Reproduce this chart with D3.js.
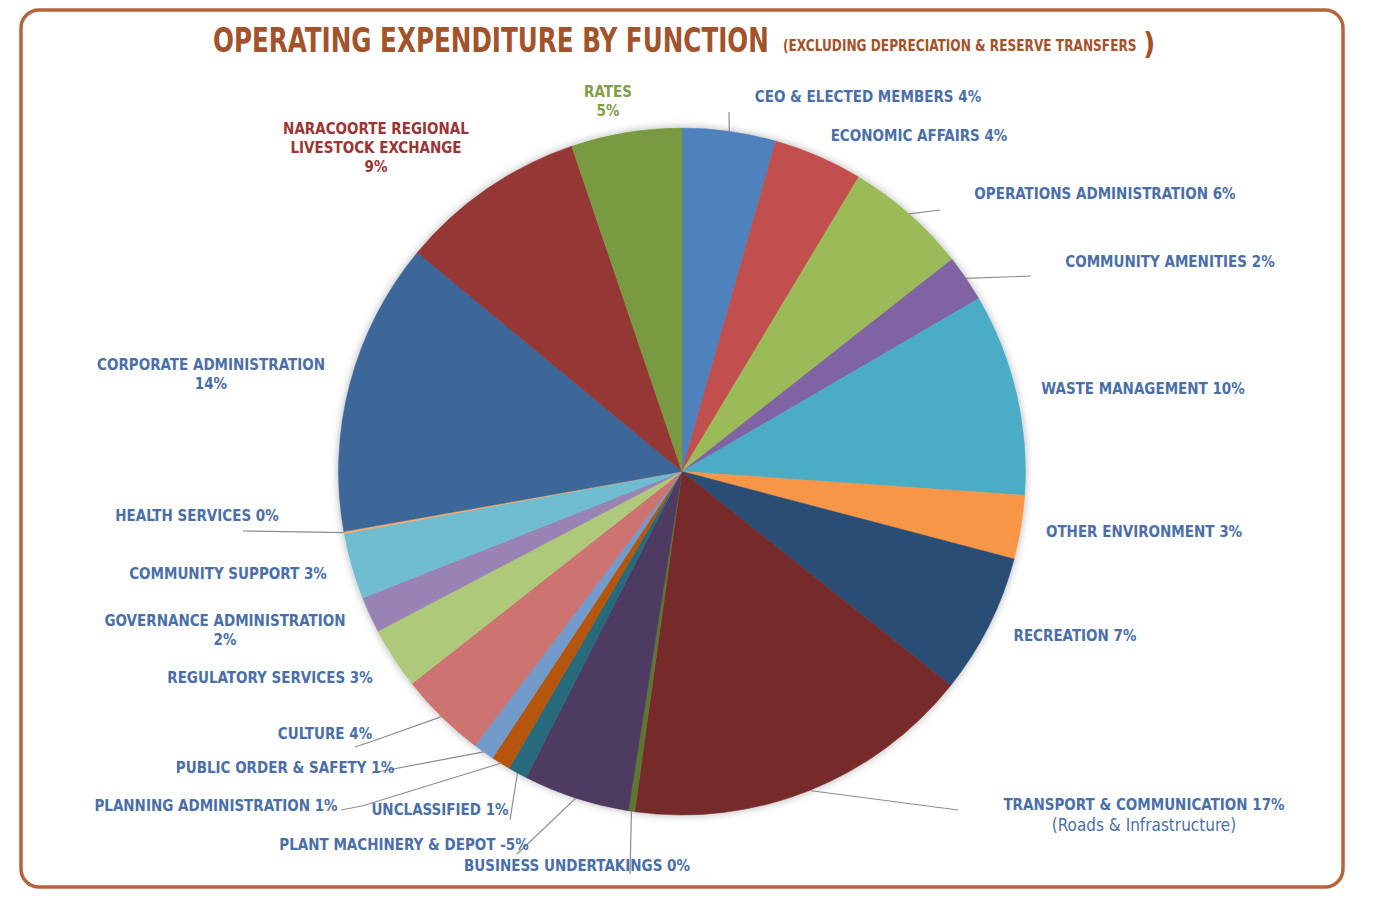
<!DOCTYPE html>
<html>
<head>
<meta charset="utf-8">
<script src="https://cdn.jsdelivr.net/npm/d3@7"></script>
<style>
  body { margin: 0; background: white; }
  svg text { font-family: "DejaVu Sans Condensed", "Liberation Sans Narrow", sans-serif; }
  .lbl { font-size: 15px; font-weight: bold; fill: #4a6fa8; }
  .leader { fill: none; stroke: #8c8c8c; stroke-width: 1.2; }
</style>
</head>
<body>
<div id="chart"></div>
<script>
// slices clockwise from 12 o'clock
var functions = ["CEO & ELECTED MEMBERS", "ECONOMIC AFFAIRS", "OPERATIONS ADMINISTRATION", "COMMUNITY AMENITIES",
  "WASTE MANAGEMENT", "OTHER ENVIRONMENT", "RECREATION", "TRANSPORT & COMMUNICATION", "BUSINESS UNDERTAKINGS",
  "PLANT MACHINERY & DEPOT", "UNCLASSIFIED", "PLANNING ADMINISTRATION", "PUBLIC ORDER & SAFETY", "CULTURE",
  "REGULATORY SERVICES", "GOVERNANCE ADMINISTRATION", "COMMUNITY SUPPORT", "HEALTH SERVICES",
  "CORPORATE ADMINISTRATION", "NARACOORTE REGIONAL LIVESTOCK EXCHANGE", "RATES"];
var shares = [4.4, 4.2, 5.8, 2.2, 9.5, 3.0, 6.6, 16.5, 0.3, 5.0, 0.9, 0.9, 1.0, 4.1, 2.9, 1.7, 3.1, 0.1, 13.8, 8.8, 5.2];
var shownPct = ["4%", "4%", "6%", "2%", "10%", "3%", "7%", "17%", "0%", "-5%", "1%", "1%", "1%", "4%", "3%", "2%", "3%", "0%", "14%", "9%", "5%"];
// label lines as printed
var labelLines = [
  ["CEO & ELECTED MEMBERS 4%"], ["ECONOMIC AFFAIRS 4%"], ["OPERATIONS ADMINISTRATION 6%"], ["COMMUNITY AMENITIES 2%"],
  ["WASTE MANAGEMENT 10%"], ["OTHER ENVIRONMENT 3%"], ["RECREATION 7%"],
  ["TRANSPORT & COMMUNICATION 17%", "(Roads & Infrastructure)"], ["BUSINESS UNDERTAKINGS 0%"],
  ["PLANT MACHINERY & DEPOT -5%"], ["UNCLASSIFIED 1%"], ["PLANNING ADMINISTRATION 1%"], ["PUBLIC ORDER & SAFETY 1%"],
  ["CULTURE 4%"], ["REGULATORY SERVICES 3%"], ["GOVERNANCE ADMINISTRATION", "2%"], ["COMMUNITY SUPPORT 3%"],
  ["HEALTH SERVICES 0%"], ["CORPORATE ADMINISTRATION", "14%"], ["NARACOORTE REGIONAL", "LIVESTOCK EXCHANGE", "9%"],
  ["RATES", "5%"]];
var titleText = "OPERATING EXPENDITURE BY FUNCTION";
var subtitleText = "(EXCLUDING DEPRECIATION & RESERVE TRANSFERS";

var colors = ["#4f81bd", "#c0504d", "#9bbb59", "#8064a2", "#4bacc6", "#f79646", "#2c4d75", "#772c2a", "#5f7530",
  "#4d3b62", "#276a7c", "#b65708", "#729aca", "#cd7371", "#afc97a", "#9983b5", "#6fbdd1", "#f9ab6b",
  "#3c6699", "#953735", "#7a9a43"];

// layout: label centre, first baseline; leader points (after the slice edge)
var layout = [
  {x: 868, y: 102, leader: [[729, 112]]},
  {x: 919, y: 141},
  {x: 1105, y: 199, leader: [[940, 210]]},
  {x: 1170, y: 267, leader: [[1031, 276]]},
  {x: 1143, y: 394},
  {x: 1144, y: 537},
  {x: 1075, y: 641},
  {x: 1144, y: 810, leader: [[958, 810]]},
  {x: 577, y: 871, leader: [[630, 874]]},
  {x: 404, y: 850, leader: [[517, 854]]},
  {x: 440, y: 815, leader: [[510, 820]]},
  {x: 216, y: 811, leader: [[362, 806], [341, 810]]},
  {x: 285, y: 773, leader: [[372, 773]]},
  {x: 325, y: 739, leader: [[376, 740], [355, 747]]},
  {x: 270, y: 683},
  {x: 225, y: 626},
  {x: 228, y: 579},
  {x: 197, y: 521, leader: [[243, 531]]},
  {x: 211, y: 370},
  {x: 376, y: 134},
  {x: 608, y: 97}
];
var labelColor = function (i) {
  if (i === 19) return "#9b3534";
  if (i === 20) return "#7f9f45";
  return "#4a6fa8";
};

var data = functions.map(function (f, i) {
  return {name: f, value: shares[i], pct: shownPct[i], lines: labelLines[i], color: colors[i], lay: layout[i], idx: i};
});

var W = 1379, H = 913;
var cx = 682, cy = 471.5, radius = 343.5;

var svg = d3.select("#chart").append("svg")
  .attr("width", W).attr("height", H);

var defs = svg.append("defs");
var f = defs.append("filter").attr("id", "shadow")
  .attr("x", "-10%").attr("y", "-10%").attr("width", "120%").attr("height", "120%");
f.append("feDropShadow").attr("dx", 0).attr("dy", 0).attr("stdDeviation", 4)
  .attr("flood-color", "#000").attr("flood-opacity", 0.3);

// frame
svg.append("rect")
  .attr("x", 21).attr("y", 10).attr("width", 1322).attr("height", 877)
  .attr("rx", 18).attr("ry", 18)
  .attr("fill", "white").attr("stroke", "#b4653c").attr("stroke-width", 3.5);

// title: condensed horizontally to fit the width of the original
function squeeze(x, y, txt, fs, target) {
  var t = svg.append("text").attr("fill", "#a3532b").attr("font-weight", "bold")
    .attr("font-size", fs + "px").text(txt);
  var len = t.node().getComputedTextLength();
  var sx = Math.min(1, target / len);
  t.attr("transform", "translate(" + x + "," + y + ") scale(" + sx.toFixed(3) + ",1)");
  return t;
}
squeeze(213, 52, titleText, 33, 556);
squeeze(783, 51, subtitleText, 16, 354);
svg.append("text").attr("x", 1143).attr("y", 54).attr("fill", "#a3532b")
  .attr("font-size", "30px").attr("font-weight", "bold").text(")");

var pie = d3.pie().value(function (d) { return d.value; }).sort(null);
var arc = d3.arc().innerRadius(0).outerRadius(radius);
var arcs = pie(data);

var g = svg.append("g").attr("transform", "translate(" + cx + "," + cy + ")");

g.append("g").attr("filter", "url(#shadow)")
  .selectAll("path")
  .data(arcs)
  .enter().append("path")
  .attr("d", arc)
  .attr("fill", function (d) { return d.data.color; })
  .attr("stroke", function (d) { return d.data.color; })
  .attr("stroke-width", 0.5);

// leader lines: from slice edge at mid angle to label
var edge = function (d) {
  var a = (d.startAngle + d.endAngle) / 2;
  return [cx + radius * Math.sin(a), cy - radius * Math.cos(a)];
};
var lineGen = d3.line();
svg.append("g").selectAll("path")
  .data(arcs.filter(function (d) { return d.data.lay.leader; }))
  .enter().append("path")
  .attr("class", "leader")
  .attr("d", function (d) { return lineGen([edge(d)].concat(d.data.lay.leader)); });

// labels
var lbl = svg.append("g").selectAll("text")
  .data(data)
  .enter().append("text")
  .attr("class", "lbl")
  .attr("text-anchor", "middle")
  .attr("x", function (d) { return d.lay.x; })
  .attr("y", function (d) { return d.lay.y; })
  .style("fill", function (d) { return labelColor(d.idx); });

lbl.selectAll("tspan")
  .data(function (d) { return d.lines.map(function (l, k) { return {t: l, k: k, x: d.lay.x, idx: d.idx}; }); })
  .enter().append("tspan")
  .attr("x", function (t) { return t.x; })
  .attr("dy", function (t) { return t.k === 0 ? 0 : (t.idx === 7 ? 21 : 19); })
  .style("font-weight", function (t) { return (t.idx === 7 && t.k === 1) ? "normal" : "bold"; })
  .style("font-size", function (t) { return (t.idx === 7 && t.k === 1) ? "17px" : null; })
  .text(function (t) { return t.t; });
</script>
</body>
</html>
